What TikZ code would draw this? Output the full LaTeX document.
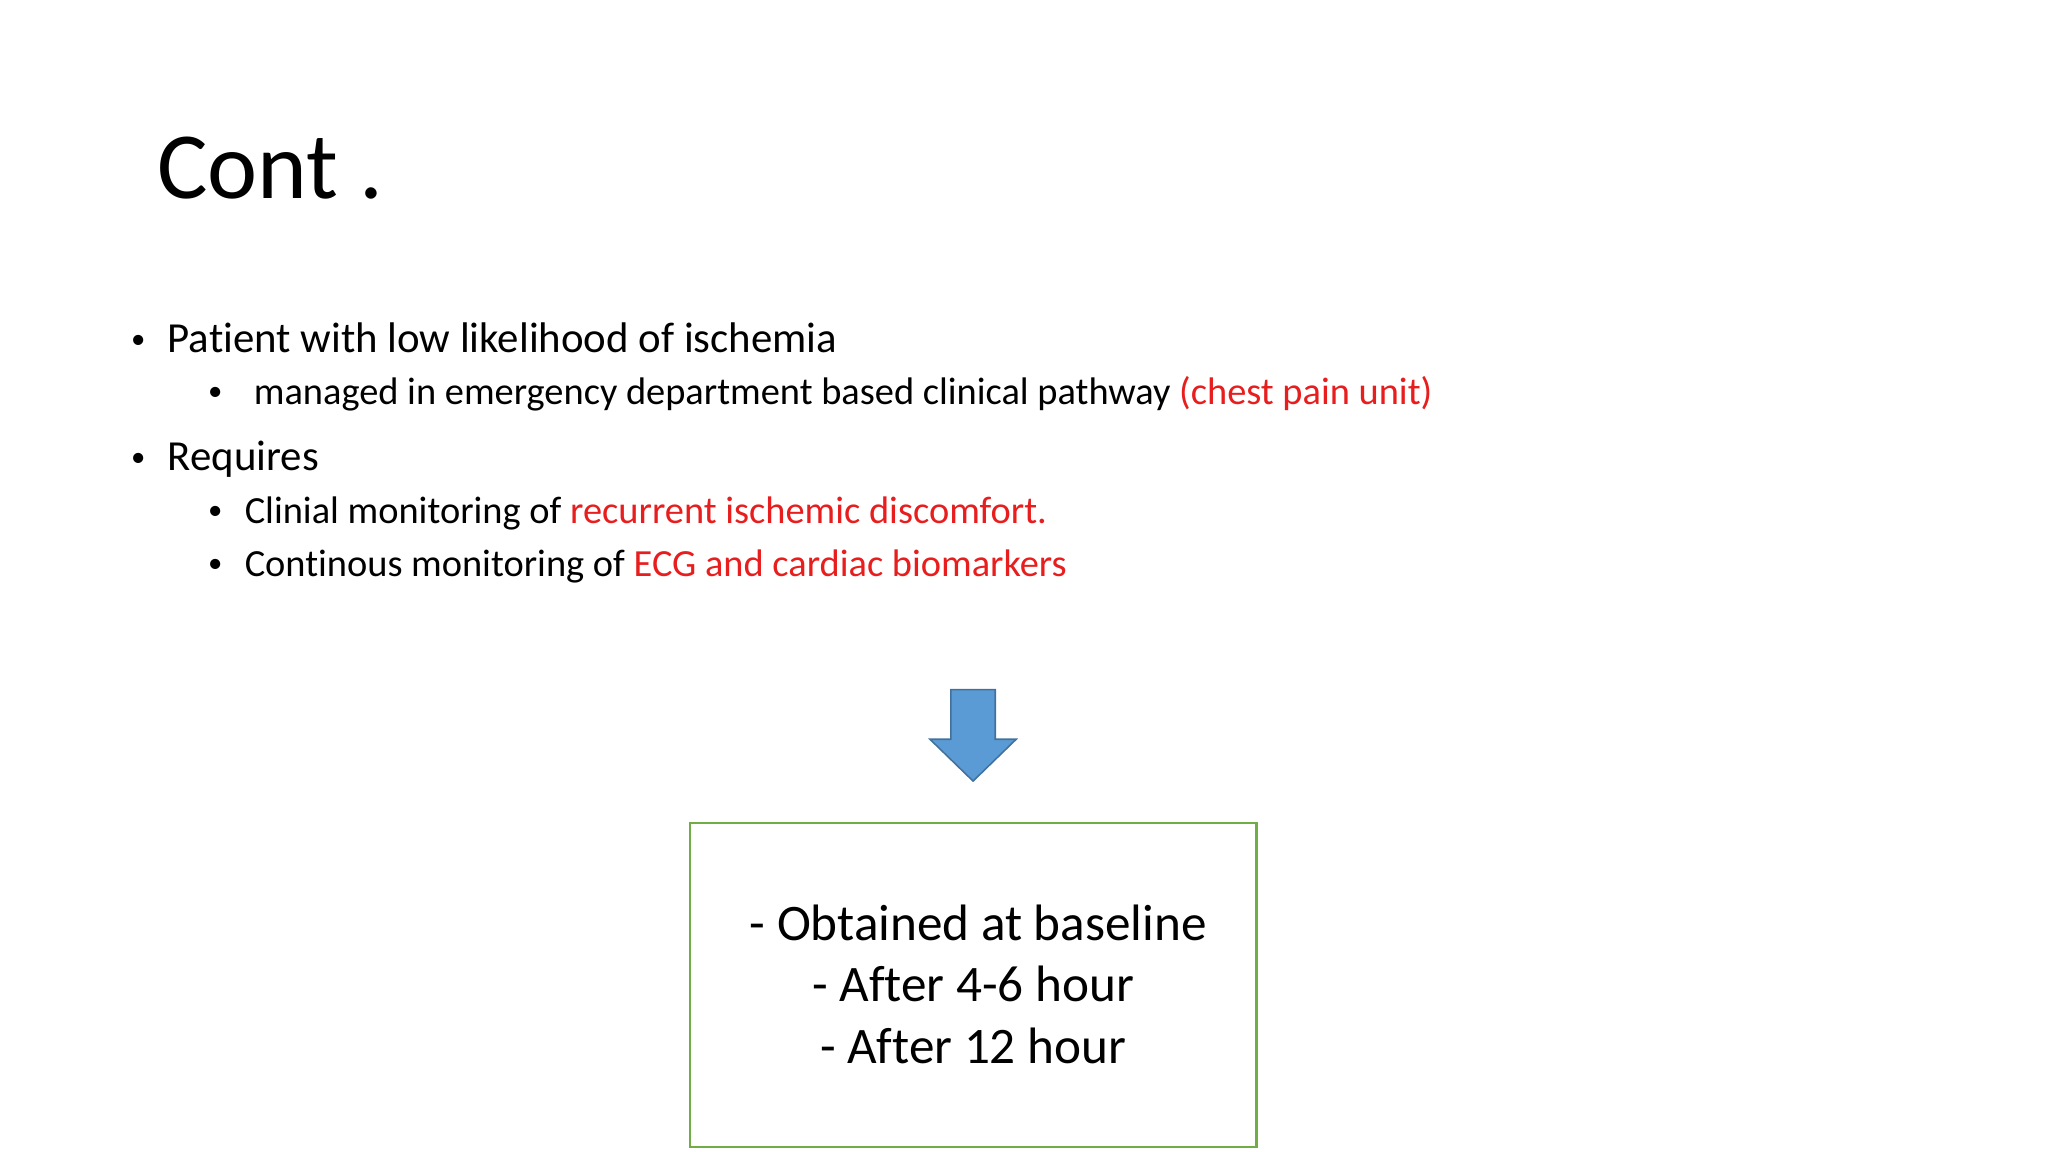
\documentclass[tikz,border=0pt]{standalone}
\usepackage{fontspec}
\setmainfont{Carlito}[Ligatures={NoCommon}]
\definecolor{redt}{HTML}{E81E1E}
\definecolor{arrf}{HTML}{5B9BD5}
\definecolor{arrd}{HTML}{41719C}
\definecolor{boxg}{HTML}{70AD47}
\begin{document}
\begin{tikzpicture}[x=0.5pt,y=-0.5pt,
  t/.style={anchor=base west,inner sep=0,font=\fontsize{16.4}{19}\selectfont},
  s/.style={anchor=base west,inner sep=0,font=\fontsize{14.7}{18}\selectfont},
  bu/.style={anchor=base west,inner sep=0,font=\fontsize{11}{13}\selectfont},
  b/.style={anchor=base,inner sep=0,font=\fontsize{19.6}{24}\selectfont}]
\useasboundingbox (0,0) rectangle (1568,882);
\node[anchor=base west,inner sep=0,font=\fontsize{36.3}{44}\selectfont] (title) at (120,152) {Cont .};
\node[bu] (b1) at (100,267) {•};
\node[t] (l1) at (128,270) {Patient with low likelihood of ischemia};
\node[bu] (b2) at (159,307) {•};
\node[s] (l2) at (194,310) {managed in emergency department based clinical pathway \textcolor{redt}{(chest pain unit)}};
\node[bu] (b3) at (100,357) {•};
\node[t] (l3) at (128,360) {Requires};
\node[bu] (b4) at (159,398) {•};
\node[s] (l4) at (187,401) {Clinial monitoring of \textcolor{redt}{recurrent ischemic discomfort.}};
\node[bu] (b5) at (159,438) {•};
\node[s] (l5) at (187,441) {Continous monitoring of \textcolor{redt}{ECG and cardiac biomarkers}};
\draw[arrd,fill=arrf,line width=0.6pt] (728,528) -- (762,528) -- (762,566) -- (778,566) -- (745,598) -- (712,566) -- (728,566) -- cycle;
\node[draw=boxg,line width=0.8pt,minimum width=217pt,minimum height=124pt,inner sep=0] (box) at (745,754) {};
\node[b] (x1) at (749,720) {- Obtained at baseline};
\node[b] (x2) at (745,767) {- After 4-6 hour};
\node[b] (x3) at (745,814) {- After 12 hour};
\end{tikzpicture}
\end{document}
